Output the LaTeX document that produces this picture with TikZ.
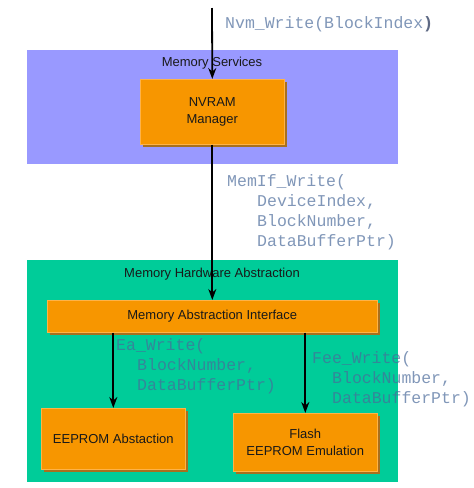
\documentclass[tikz,border=0pt]{standalone}
\usepackage{fontspec}
\setmainfont{Liberation Sans}
\newfontfamily\codefont{Liberation Mono}
\usetikzlibrary{arrows.meta,shadows}
\definecolor{servcol}{HTML}{9999FF}
\definecolor{hwcol}{HTML}{00CC99}
\definecolor{boxcol}{HTML}{F79600}
\definecolor{boxedge}{HTML}{FFB347}
\definecolor{shadcol}{HTML}{A8701E}
\definecolor{codecol}{HTML}{4A6A9A}
\definecolor{codedark}{HTML}{1A2A50}
\tikzset{
  layer/.style={draw=none, anchor=north west, inner sep=0pt},
  layerlabel/.style={font=\fontsize{13}{16}\selectfont, text=black!90},
  modbox/.style={fill=boxcol, draw=boxedge, line width=0.6pt, anchor=north west,
    inner sep=0pt, align=center, font=\fontsize{13}{17}\selectfont, text=black!90,
    drop shadow={shadow xshift=2.5pt, shadow yshift=-2.5pt, fill=shadcol, opacity=1}},
  code/.style={font=\codefont\fontsize{16.5}{20}\selectfont, text=codecol,
    text opacity=0.7, anchor=base west, align=left, inner sep=0pt},
  flow/.style={draw=black, line width=1.8pt, -{Stealth[length=11pt,width=8pt]}}
}
\begin{document}
\begin{tikzpicture}[x=1pt,y=-1pt]
\useasboundingbox (0,0) rectangle (474,488);
% layers
\node[layer, fill=servcol, minimum width=371pt, minimum height=114pt] (ms) at (27,50) {};
\node[layer, fill=hwcol, minimum width=371pt, minimum height=222pt] (mha) at (27,260) {};
\node[layerlabel] (mslbl) at (212,63) {Memory Services};
\node[layerlabel] (mhalbl) at (212,274) {Memory Hardware Abstraction};
% modules
\node[modbox, minimum width=144pt, minimum height=65pt] (nvm) at (140,79) {NVRAM\\Manager};
\node[modbox, minimum width=330pt, minimum height=32pt] (mai) at (47,300) {Memory Abstraction Interface};
\node[modbox, minimum width=144pt, minimum height=61pt] (eep) at (41,408) {EEPROM Abstaction};
\node[modbox, minimum width=144pt, minimum height=58pt] (fee) at (233,413) {Flash\\EEPROM Emulation};
% connectors
\coordinate (top) at (212,8);
\draw[flow] (top) -- (nvm.north);
\draw[flow] (nvm.south) -- (mai.north);
\draw[flow] (eep.north |- mai.south) -- (eep.north);
\draw[flow] (fee.north |- mai.south) -- (fee.north);
% labels (base anchor = baseline of the last line)
\node[code] (nvmw) at (225,28) {Nvm\_Write(BlockIndex\textcolor{codedark}{\textbf{)}}};
\node[code] (memif) at (227,246) {MemIf\_Write(\\\hspace*{30pt}DeviceIndex,\\\hspace*{30pt}BlockNumber,\\\hspace*{30pt}DataBufferPtr)};
\node[code] (eaw) at (116,390) {Ea\_Write(\\\hspace*{21pt}BlockNumber,\\\hspace*{21pt}DataBufferPtr)};
\node[code] (feew) at (312,403) {Fee\_Write(\\\hspace*{20pt}BlockNumber,\\\hspace*{20pt}DataBufferPtr)};
\end{tikzpicture}
\end{document}
